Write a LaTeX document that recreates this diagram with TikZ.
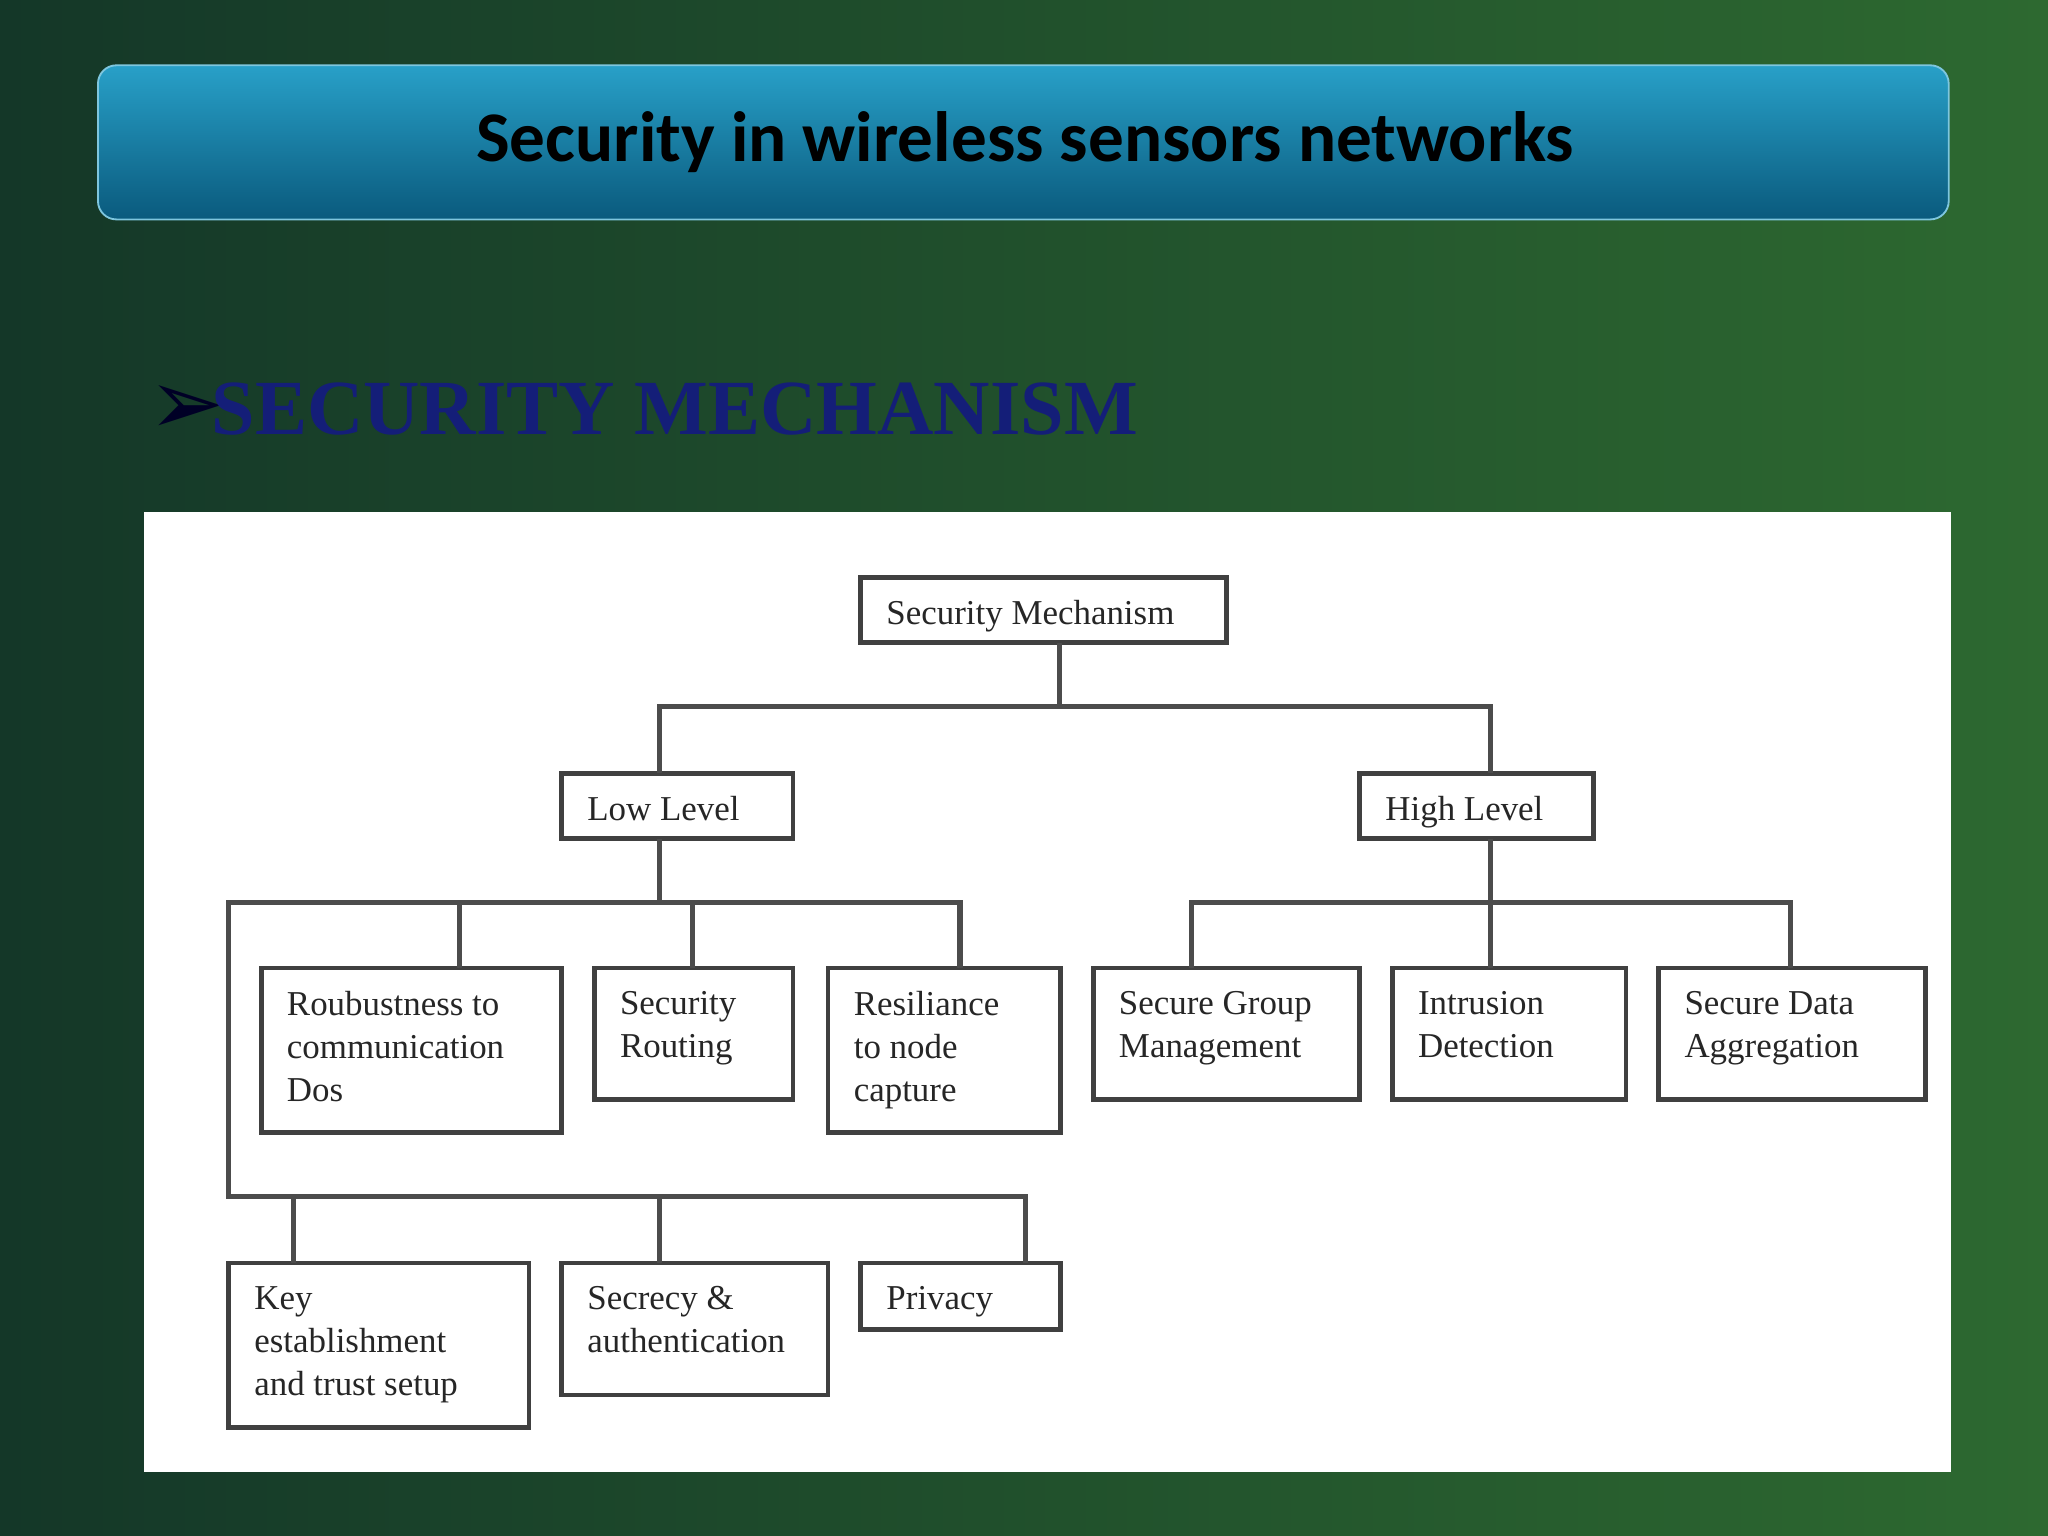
\documentclass[tikz,border=0pt]{standalone}
\usepackage{fontspec}
\setmainfont{Liberation Serif}
\newfontfamily\carl{Carlito}
\newfontfamily\dejav{DejaVu Sans}
\usetikzlibrary{positioning}
\definecolor{bgA}{RGB}{20,55,40}
\definecolor{bgB}{RGB}{45,105,48}
\definecolor{barA}{RGB}{40,160,200}
\definecolor{barB}{RGB}{10,90,125}
\definecolor{subblue}{RGB}{20,30,120}
\tikzset{
  bx/.style={draw=black!75, line width=1.0pt, rectangle, inner sep=0pt, outer sep=0pt},
  tx/.style={anchor=north west, align=left, inner sep=0pt, font=\fontsize{7.6}{9.4}\selectfont, text=black!85},
  ln/.style={draw=black!70, line width=1.1pt}
}
\newcommand{\bxx}[6]{%
  \node[bx, minimum width={(#4-#2)*0.01cm}, minimum height={(#5-#3)*0.01cm}, anchor=north west] (#1) at (#2,#3) {};
  \node[tx] at ([xshift=0.19cm,yshift=-0.17cm]#1.north west) {#6};}
\begin{document}
\begin{tikzpicture}[x=0.01cm,y=-0.01cm]
\useasboundingbox (0,0) rectangle (1568,1176);
\shade[left color=bgA, right color=bgB] (0,0) rectangle (1568,1176);
% title bar
\shade[top color=barA, bottom color=barB, rounded corners=4pt, draw=barA!60!white] (75,50) rectangle (1492,168);
\node[font=\carl\bfseries\fontsize{15.5}{18}\selectfont, text=black] (title) at (785,109) {Security in wireless sensors networks};
\node[font=\bfseries\fontsize{17}{20}\selectfont, text=subblue, anchor=west, inner sep=0pt] (sub) at (113,313) {{\dejav\mdseries\fontsize{20}{20}\selectfont\color{black!85!blue}➢}\hspace{-3pt}SECURITY MECHANISM};
% panel
\fill[white] (110,392) rectangle (1494,1127);
\bxx{sm}{659}{442}{939}{492}{Security Mechanism}
\bxx{low}{430}{592}{607}{642}{Low Level}
\bxx{high}{1041}{592}{1220}{642}{High Level}
\bxx{rob}{200}{741}{430}{867}{Roubustness to\\communication\\Dos}
\bxx{sr}{455}{741}{607}{842}{Security\\Routing}
\bxx{res}{634}{741}{812}{867}{Resiliance\\to node\\capture}
\bxx{sg}{837}{741}{1041}{842}{Secure Group\\Management}
\bxx{id}{1066}{741}{1245}{842}{Intrusion\\Detection}
\bxx{sd}{1270}{741}{1474}{842}{Secure Data\\Aggregation}
\bxx{key}{175}{967}{405}{1093}{Key\\establishment\\and trust setup}
\bxx{sec}{430}{967}{634}{1068}{Secrecy \&\\authentication}
\bxx{pri}{659}{967}{812}{1018}{Privacy}
% connectors
\coordinate (j0) at (811,541);
\coordinate (j1) at (505,691);
\coordinate (j2) at (175,916);
\coordinate (j3) at (1141,691);
\draw[ln] (811,492) -- (j0);
\draw[ln] (505,592) |- (1141,541) -- (1141,592);
\draw[ln] (505,642) -- (j1);
\draw[ln] (352,741) |- (175,691) -- (j2) -| (225,967);
\draw[ln] (352,691) -- (735,691) -- (735,741);
\draw[ln] (530,691) -- (530,741);
\draw[ln] (225,916) -- (785,916) -- (785,967);
\draw[ln] (505,916) -- (505,967);
\draw[ln] (1141,642) -- (j3);
\draw[ln] (912,741) |- (1371,691) -- (1371,741);
\draw[ln] (1141,691) -- (1141,741);
\end{tikzpicture}
\end{document}
